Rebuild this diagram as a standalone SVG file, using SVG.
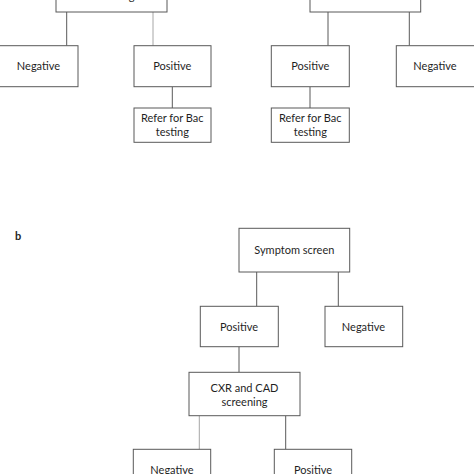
<svg xmlns="http://www.w3.org/2000/svg" width="474" height="474" viewBox="0 0 474 474">
<style>
.box{fill:#fff;stroke:#595959;stroke-width:1}
.c{stroke:#595959;stroke-width:1;fill:none}
.cl{stroke:#a6a6a6;stroke-width:1;fill:none}
text{font-family:Lato,"Open Sans","Liberation Sans",sans-serif;font-size:11px;fill:#1f1f1f;text-anchor:middle}
.lbl{font-weight:bold;text-anchor:start;font-size:11px}
</style>
<rect width="474" height="474" fill="#fff"/>
<g id="connectors">
<line class="c" x1="66.7" y1="12" x2="66.7" y2="45.7"/>
<line class="cl" x1="153" y1="12" x2="153" y2="45.7"/>
<line class="c" x1="172.3" y1="86.7" x2="172.3" y2="108"/>
<line class="c" x1="328" y1="12" x2="328" y2="45.7"/>
<line class="c" x1="409.3" y1="12" x2="409.3" y2="45.7"/>
<line class="c" x1="310" y1="86.7" x2="310" y2="108"/>
<line class="c" x1="256.7" y1="272" x2="256.7" y2="306.3"/>
<line class="c" x1="338.3" y1="272" x2="338.3" y2="306.3"/>
<line class="c" x1="239" y1="346.7" x2="239" y2="372.3"/>
<line class="cl" x1="199.3" y1="415.7" x2="199.3" y2="449.3"/>
<line class="c" x1="285.7" y1="415.7" x2="285.7" y2="449.3"/>
</g>
<g id="a-top-left"><rect class="box" x="56" y="-30" width="111" height="42"/><text x="111.5" y="-0.5">screening</text></g>
<g id="a-top-right"><rect class="box" x="310" y="-30" width="110.7" height="42"/></g>
<g id="a-neg-1"><rect class="box" x="-1" y="45.7" width="79" height="41"/><text x="38.5" y="70">Negative</text></g>
<g id="a-pos-1"><rect class="box" x="134" y="45.7" width="77" height="41"/><text x="172.3" y="70">Positive</text></g>
<g id="a-refer-1"><rect class="box" x="134" y="108" width="77" height="34.3"/><text x="172.3" y="122">Refer for Bac</text><text x="172.3" y="136">testing</text></g>
<g id="a-pos-2"><rect class="box" x="271.3" y="45.7" width="78" height="41"/><text x="310.3" y="70">Positive</text></g>
<g id="a-neg-2"><rect class="box" x="396.3" y="45.7" width="80" height="41"/><text x="435" y="70">Negative</text></g>
<g id="a-refer-2"><rect class="box" x="271.3" y="108" width="78" height="34.3"/><text x="310.3" y="122">Refer for Bac</text><text x="310.3" y="136">testing</text></g>
<text class="lbl" x="15" y="240">b</text>
<g id="b-symptom"><rect class="box" x="239" y="228.3" width="110.7" height="43.7"/><text x="294.3" y="254">Symptom screen</text></g>
<g id="b-pos"><rect class="box" x="200.3" y="306.3" width="78" height="40.4"/><text x="239" y="330.6">Positive</text></g>
<g id="b-neg"><rect class="box" x="325" y="306.3" width="77.7" height="40.4"/><text x="363.5" y="330.6">Negative</text></g>
<g id="b-cxr"><rect class="box" x="189" y="372.3" width="111" height="43.4"/><text x="244.5" y="391.7">CXR and CAD</text><text x="244.5" y="405.7">screening</text></g>
<g id="b-neg2"><rect class="box" x="133.3" y="449.3" width="77.4" height="41"/><text x="172" y="473.8">Negative</text></g>
<g id="b-pos2"><rect class="box" x="274.3" y="449.3" width="77.4" height="41"/><text x="313" y="473.8">Positive</text></g>
</svg>
